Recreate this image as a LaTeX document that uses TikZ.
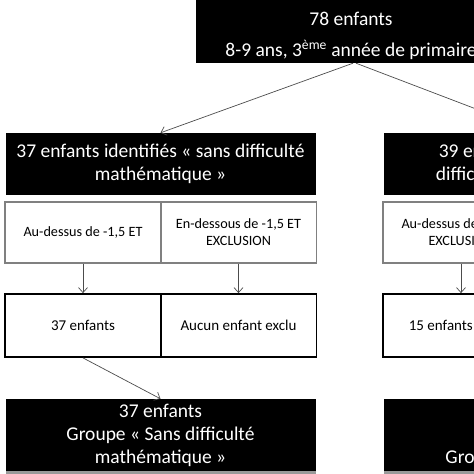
\documentclass[tikz,border=0pt]{standalone}
\usepackage{fontspec}
\setmainfont{Carlito}
\usetikzlibrary{arrows.meta,shadows}
\begin{document}
\begin{tikzpicture}[x=1pt,y=-1pt,
  big/.style={font=\fontsize{19.5}{23}\selectfont},
  blk/.style={big,fill=black,text=white,draw=none,inner sep=0pt,align=center},
  shad/.style={drop shadow={shadow xshift=0pt,shadow yshift=-3pt,fill=black!40,opacity=1}},
  graycell/.style={draw=black!50,line width=1.8pt,inner sep=0pt,align=center,
    minimum width=156,minimum height=61,font=\fontsize{14.2}{17}\selectfont},
  blkcell/.style={draw=black,line width=1.8pt,inner sep=0pt,align=center,
    minimum width=156,minimum height=63,font=\fontsize{15}{18}\selectfont},
  conn/.style={draw=black!70,line width=0.7pt,-{Straight Barb[length=5pt,width=9pt]}},
]
\useasboundingbox (0,0) rectangle (474,474);
\clip (0,0) rectangle (474,474);
\fill[white] (0,0) rectangle (474,474);

% top
\node[blk,minimum width=310,minimum height=80] (top) at (351,23) {};
\node[big,text=white,align=center] (toptext) at (351,36)
  {78 enfants\\[8pt]8-9 ans, 3\textsuperscript{ème} année de primaire};

% left group
\node[blk,minimum width=310,minimum height=62] (L1) at (160.5,164)
  {37 enfants identifiés « sans difficulté\\mathématique »};
\node[graycell] (La) at (83,232.5) {Au-dessus de -1,5 ET};
\node[graycell] (Lb) at (238.5,232.5) {En-dessous de -1,5 ET\\EXCLUSION};
\node[blkcell] (Lc) at (83,325.5) {37 enfants};
\node[blkcell] (Ld) at (238.5,325.5) {Aucun enfant exclu};
\node[blk,shad,minimum width=310,minimum height=72] (L4) at (160.5,435)
  {37 enfants\\Groupe « Sans difficulté\\mathématique »};

% right group
\node[blk,minimum width=310,minimum height=62] (R1) at (538.5,164)
  {39 enfants identifiés « en\\difficulté mathématique »};
\node[graycell] (Ra) at (461,232.5) {Au-dessus de -1,5 ET\\EXCLUSION};
\node[graycell] (Rb) at (616.5,232.5) {};
\node[blkcell] (Rc) at (461,325.5) {15 enfants exclus};
\node[blkcell] (Rd) at (616.5,325.5) {};
\node[blk,shad,minimum width=310,minimum height=72] (R4) at (538.5,435)
  {24 enfants\\[23pt]Groupe « En difficulté »};

% connectors
\draw[conn] ([xshift=2pt]top.south) -- (L1.north);
\draw[conn] ([xshift=5pt]top.south) -- (R1.north);
\draw[conn] (La.south) -- (Lc.north);
\draw[conn] (Lb.south) -- (Ld.north);
\draw[conn] (Ra.south) -- (Rc.north);
\draw[conn] (Lc.south) -- (L4.north);
\end{tikzpicture}
\end{document}
